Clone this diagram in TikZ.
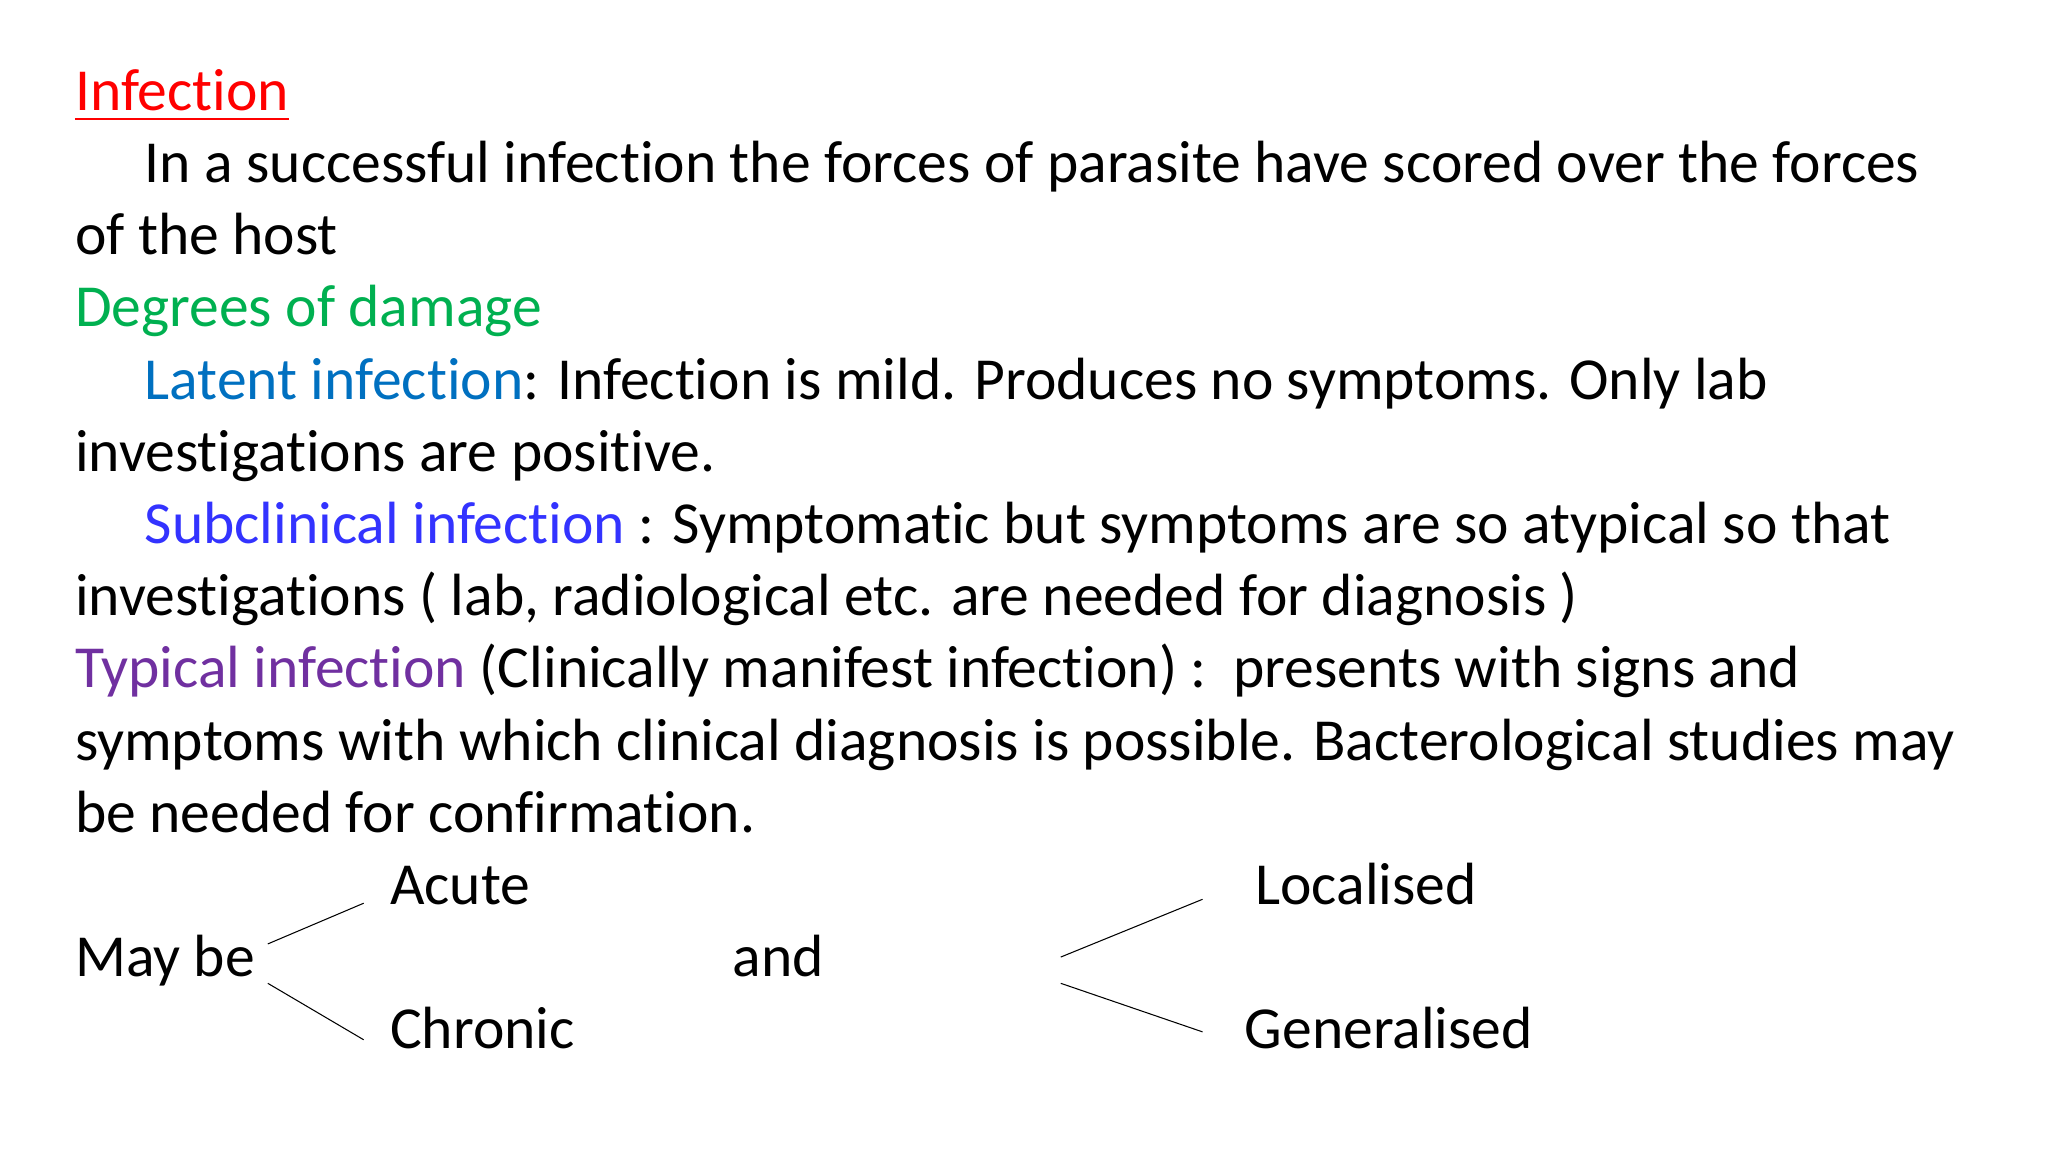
\documentclass[tikz,border=0pt]{standalone}
\usepackage{fontspec}
\setmainfont{Carlito}[RawFeature=-liga]
\definecolor{cred}{RGB}{255,0,0}
\definecolor{cgreen}{RGB}{0,176,80}
\definecolor{cblue}{RGB}{0,112,192}
\definecolor{csub}{RGB}{51,51,255}
\definecolor{cpurp}{RGB}{112,48,160}
\begin{document}
\begin{tikzpicture}[x=1pt,y=-1pt,
  txt/.style={anchor=base west,inner sep=0pt,font=\fontsize{45.4}{50}\selectfont},
  br/.style={line width=0.8pt,black}]
\useasboundingbox (0,0) rectangle (1560,877.5);
\node[txt,text=cred] (inf) at (57,84) {Infection};
\draw[cred,line width=1.5pt] ([yshift=-7]inf.base west) -- ([yshift=-7]inf.base east);
\node[txt] (l2) at (110,139) {In a successful infection the forces of parasite have scored over the forces};
\node[txt] (l3) at (57,194) {of the host};
\node[txt,text=cgreen] (l4) at (57,249) {Degrees of damage};
\node[txt] (l5) at (110,304) {\textcolor{cblue}{Latent infection}: Infection is mild. Produces no symptoms. Only lab};
\node[txt] (l6) at (57,359) {investigations are positive.};
\node[txt] (l7) at (110,414) {\textcolor{csub}{Subclinical infection} : Symptomatic but symptoms are so atypical so that};
\node[txt] (l8) at (57,469) {investigations ( lab, radiological etc. are needed for diagnosis )};
\node[txt] (l9) at (57,524) {\textcolor{cpurp}{Typical infection} (Clinically manifest infection) :\ \ presents with signs and};
\node[txt] (l10) at (57,579) {symptoms with which clinical diagnosis is possible. Bacterological studies may};
\node[txt] (l11) at (57,634) {be needed for confirmation.};
\node[txt] (may) at (57,744) {May be};
\node[txt] (acute) at (297,689) {Acute};
\node[txt] (chronic) at (297,799) {Chronic};
\node[txt] (and) at (558,744) {and};
\node[txt] (loc) at (956,689) {Localised};
\node[txt] (gen) at (948,799) {Generalised};
\coordinate (a1) at (204,719); \coordinate (a2) at (277,688);
\coordinate (b1) at (204,749); \coordinate (b2) at (277,792);
\coordinate (c1) at (808,729); \coordinate (c2) at (916,685);
\coordinate (d1) at (808,749); \coordinate (d2) at (916,786);
\draw[br] (a1) -- (a2);
\draw[br] (b1) -- (b2);
\draw[br] (c1) -- (c2);
\draw[br] (d1) -- (d2);
\end{tikzpicture}
\end{document}
